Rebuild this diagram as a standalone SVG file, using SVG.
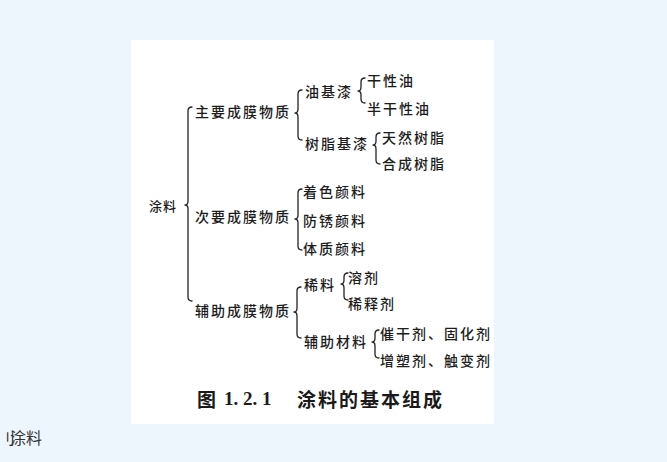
<svg xmlns="http://www.w3.org/2000/svg" width="667" height="462" viewBox="0 0 667 462">
<style>
.t{font-family:"Noto Sans CJK SC","Noto Sans",sans-serif;font-size:14px;font-weight:500;letter-spacing:2px;fill:#1c1c1c;dominant-baseline:central}
.b{fill:none;stroke:#222;stroke-width:1.3;stroke-linecap:round;stroke-linejoin:round}
.cap{font-family:"Noto Sans CJK SC","Noto Sans",sans-serif;font-size:19px;font-weight:bold;fill:#1a1a1a;dominant-baseline:central}
</style>
<rect width="667" height="462" fill="#eef6fd"/>
<rect x="131" y="40" width="363" height="384" fill="#ffffff"/>
<g id="connectors">
<path class="b" d="M192 107 Q188 107 188 111 L188 201 Q188 205 185 205 Q188 205 188 209 L188 297 Q188 301 192 301"/>
<path class="b" d="M302 90 Q298 90 298 94 L298 109 Q298 113 295 113 Q298 113 298 117 L298 136 Q298 140 302 140"/>
<path class="b" d="M365 78 Q361 78 361 82 L361 87 Q361 91 358 91 Q361 91 361 95 L361 99 Q361 103 365 103"/>
<path class="b" d="M380 133 Q376 133 376 137 L376 141 Q376 145 373 145 Q376 145 376 149 L376 160 Q376 164 380 164"/>
<path class="b" d="M302 189 Q298 189 298 193 L298 215 Q298 219 295 219 Q298 219 298 223 L298 246 Q298 250 302 250"/>
<path class="b" d="M301 287 Q297 287 297 291 L297 308 Q297 312 294 312 Q297 312 297 316 L297 334 Q297 338 301 338"/>
<path class="b" d="M348 273 Q344 273 344 277 L344 280 Q344 284 341 284 Q344 284 344 288 L344 296 Q344 300 348 300"/>
<path class="b" d="M379 330 Q375 330 375 334 L375 338 Q375 342 372 342 Q375 342 375 346 L375 354 Q375 358 379 358"/>
</g>
<g id="root"><text class="t" x="149" y="205" style="font-size:13px;letter-spacing:1px">涂料</text></g>
<g id="n1"><text class="t" x="195" y="111">主要成膜物质</text></g>
<g id="n1a"><text class="t" x="305" y="91">油基漆</text></g>
<g id="n1a1"><text class="t" x="367" y="80">干性油</text></g>
<g id="n1a2"><text class="t" x="367" y="108">半干性油</text></g>
<g id="n1b"><text class="t" x="305" y="143">树脂基漆</text></g>
<g id="n1b1"><text class="t" x="382" y="137">天然树脂</text></g>
<g id="n1b2"><text class="t" x="382" y="163">合成树脂</text></g>
<g id="n2"><text class="t" x="195" y="216">次要成膜物质</text></g>
<g id="n2a"><text class="t" x="303" y="191">着色颜料</text></g>
<g id="n2b"><text class="t" x="303" y="220">防锈颜料</text></g>
<g id="n2c"><text class="t" x="303" y="248">体质颜料</text></g>
<g id="n3"><text class="t" x="195" y="310">辅助成膜物质</text></g>
<g id="n3a"><text class="t" x="304" y="284">稀料</text></g>
<g id="n3a1"><text class="t" x="348" y="277">溶剂</text></g>
<g id="n3a2"><text class="t" x="348" y="303">稀释剂</text></g>
<g id="n3b"><text class="t" x="304" y="341">辅助材料</text></g>
<g id="n3b1"><text class="t" x="380" y="333">催干剂、固化剂</text></g>
<g id="n3b2"><text class="t" x="380" y="360">增塑剂、触变剂</text></g>
<g id="caption">
<text class="cap" x="197" y="398">图</text>
<text class="cap" x="224" y="398" style="font-family:'Liberation Serif',serif">1. 2. 1</text>
<text class="cap" x="297" y="398" style="letter-spacing:2px">涂料的基本组成</text>
</g>
<text x="-1" y="437" style="font-family:'Noto Sans CJK SC',sans-serif;font-size:16px;fill:#333;dominant-baseline:central;letter-spacing:-5px">刂<tspan style="letter-spacing:0">涂料</tspan></text>
</svg>
